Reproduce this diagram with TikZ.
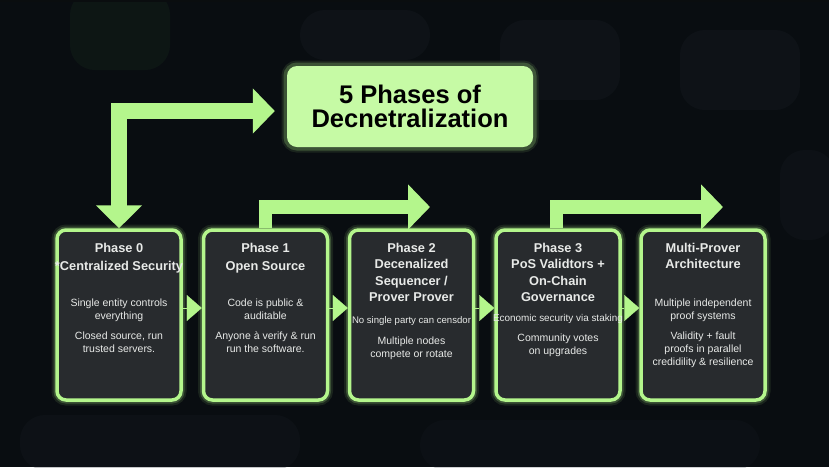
\documentclass[tikz,border=0pt]{standalone}
\usepackage{fontspec}
\setmainfont{Liberation Sans}
\usetikzlibrary{arrows.meta}
\definecolor{bgdark}{RGB}{9,13,17}
\definecolor{bgblob}{RGB}{26,32,38}
\definecolor{bggreen}{RGB}{22,40,28}
\definecolor{neon}{RGB}{180,246,140}
\definecolor{neonlight}{RGB}{198,250,165}
\definecolor{boxgrey}{RGB}{40,43,46}
\definecolor{textgrey}{RGB}{232,234,232}
\tikzset{
	glow/.style={preaction={draw=neon, line width=11pt, opacity=0.10},
		preaction={draw=neon, line width=7pt, opacity=0.22}},
	phasebox/.style={draw=neon, line width=3.5pt, fill=boxgrey, rounded corners=9pt,
		minimum width=124pt, minimum height=170pt, glow},
	phasetitle/.style={text=textgrey, font=\fontsize{12.8}{16.5}\selectfont\bfseries,
		align=center, anchor=north, inner sep=0pt},
	phasetext/.style={text=textgrey, font=\fontsize{10.5}{13}\selectfont,
		align=center, anchor=north, inner sep=0pt},
	blockarrow/.style={draw=neon, line width=14pt,
		-{Triangle[width=44pt,length=22pt]}},
	stepchevron/.style={draw=neon, fill=neon, line width=0.1pt,
		-{Triangle[width=26pt,length=15pt]}}
}

\begin{document}
\begin{tikzpicture}[x=1pt, y=-1pt]
		%%%%% BACKGROUND %%%%%
		\fill[bgdark] (0, 0) rectangle (829, 467);
		\useasboundingbox (0, 0) rectangle (829, 467);
		\fill[bggreen, opacity=0.35, rounded corners=25pt] (70, -10) rectangle (170, 70);
		\fill[bgblob, opacity=0.3, rounded corners=25pt] (300, 10) rectangle (430, 60);
		\fill[bgblob, opacity=0.3, rounded corners=25pt] (500, 20) rectangle (620, 100);
		\fill[bgblob, opacity=0.3, rounded corners=25pt] (680, 30) rectangle (800, 110);
		\fill[bgblob, opacity=0.25, rounded corners=25pt] (780, 150) rectangle (835, 240);
		\fill[bgblob, opacity=0.25, rounded corners=25pt] (20, 415) rectangle (300, 470);
		\fill[bgblob, opacity=0.2, rounded corners=25pt] (420, 420) rectangle (760, 470);
		\fill[black!60!bgblob] (0, 0) rectangle (829, 1.5);
		
		%%%%% TITLE %%%%%
		\node[fill=neonlight, rounded corners=10pt, minimum width=246pt, minimum height=81pt,
			glow, align=center, font=\fontsize{25.5}{23.5}\selectfont\bfseries, text=black]
			(title) at (410, 106.5) {5 Phases of\\Decnetralization};
		
		%%%%% PHASE BOXES %%%%%
		\node[phasebox] (p0) at (119, 315) {};
		\node[phasebox] (p1) at (265.5, 315) {};
		\node[phasebox] (p2) at (411.5, 315) {};
		\node[phasebox] (p3) at (558, 315) {};
		\node[phasebox] (p4) at (703, 315) {};
		
		\node[phasetitle] (p0t) at (119, 243) {Phase 0\\[2pt]*Centralized Security};
		\node[phasetext] (p0b) at (119, 299) {Single entity controls\\everything\\[7pt]Closed source, run\\trusted servers.};
		
		\node[phasetitle] (p1t) at (265.5, 243) {Phase 1\\[2pt]Open Source};
		\node[phasetext] (p1b) at (265.5, 299) {Code is public \&\\auditable\\[7pt]Anyone à verify \& run\\run the software.};
		
		\node[phasetitle] (p2t) at (411.5, 243) {Phase 2\\Decenalized\\Sequencer /\\Prover Prover};
		\node[phasetext] (p2b) at (411.5, 316) {{\fontsize{9.6}{13}\selectfont No single party can censdor}\\[8pt]Multiple nodes\\compete or rotate};
		
		\node[phasetitle] (p3t) at (558, 243) {Phase 3\\PoS Validtors +\\On-Chain\\Governance};
		\node[phasetext] (p3b) at (558, 314) {{\fontsize{9.9}{13}\selectfont Economic security via staking}\\[7pt]Community votes\\on upgrades};
		
		\node[phasetitle] (p4t) at (703, 243) {Multi-Prover\\Architecture};
		\node[phasetext] (p4b) at (703, 299) {Multiple independent\\proof systems\\[7pt]Validity + fault\\proofs in parallel\\credidility \& resilience};
		
		%%%%% ARROWS %%%%%
		\draw[stepchevron] ([yshift=7pt]p0.east) -- ([yshift=7pt]p1.west);
		\draw[stepchevron] ([yshift=7pt]p1.east) -- ([yshift=7pt]p2.west);
		\draw[stepchevron] ([yshift=7pt]p2.east) -- ([yshift=7pt]p3.west);
		\draw[stepchevron] ([yshift=7pt]p3.east) -- ([yshift=7pt]p4.west);
		
		\coordinate (c12) at (430, 207);
		\coordinate (c34) at (723, 207);
		\draw[blockarrow, line width=16pt, {Triangle[width=45pt,length=23pt]}-{Triangle[width=44pt,length=22pt]}, shorten >=12pt]
			(p0.north) |- ([yshift=-4.5pt]title.west);
		\draw[blockarrow, line width=13.5pt] (p1.north) |- (c12);
		\draw[blockarrow, line width=13.5pt] ([xshift=-1.5pt]p3.north) |- (c34);
		
		%%%%% END %%%%%
\end{tikzpicture}
\end{document}
